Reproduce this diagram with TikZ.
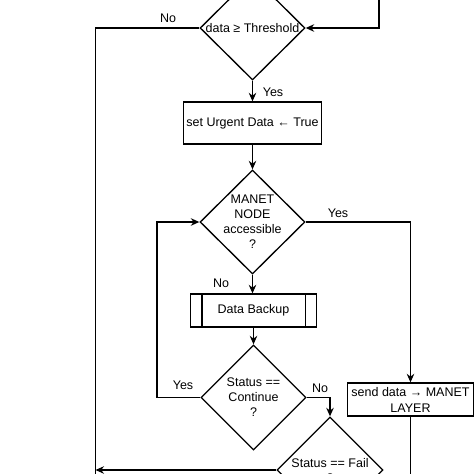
\documentclass[tikz,border=0pt]{standalone}
\usepackage{fontspec}
\setmainfont{Liberation Sans}
\usetikzlibrary{arrows.meta,shapes.geometric}
\begin{document}
\begin{tikzpicture}[x=1pt,y=-1pt,line width=1.35pt,
  arr/.style={-{Stealth[length=8.5pt,width=7.5pt]}},
  txt/.style={font=\fontsize{12.5}{15}\selectfont,align=center,inner sep=0pt},
  dec/.style={diamond,draw,inner sep=0pt,minimum width=105pt,minimum height=104pt},
  box/.style={rectangle,draw,inner sep=0pt,font=\fontsize{12.5}{16}\selectfont,align=center},
  lbl/.style={font=\fontsize{12.5}{15}\selectfont,inner sep=0pt}]
\useasboundingbox (0,0) rectangle (474,474);
\clip (0,0) rectangle (474,474);
% nodes
\node[dec,label={[txt]center:data ≥ Threshold}] (d1) at (252.5,28) {};
\node[box,minimum width=138pt,minimum height=42pt] (r1) at (252.5,123) {set Urgent Data ← True};
\node[dec,label={[txt]center:{MANET\\NODE\\accessible\\?}}] (d2) at (252.5,222) {};
\node[box,minimum width=126pt,minimum height=33pt] (bk) at (253.5,310.5) {Data Backup};
\draw ([xshift=12pt]bk.north west) -- ([xshift=12pt]bk.south west);
\draw ([xshift=-12pt]bk.north east) -- ([xshift=-12pt]bk.south east);
\node[dec,minimum height=105pt,label={[txt]center:{Status ==\\Continue\\?}}] (d3) at (253.5,397.5) {};
\node[dec,minimum width=106pt,minimum height=106pt,label={[txt]center:{Status == Fail\\?}}] (d4) at (330,470) {};
\node[box,minimum width=126pt,minimum height=33pt] (sd) at (410.5,399.5) {send data → MANET\\LAYER};
% labels
\node[lbl] (l1) at (168,18) {No};
\node[lbl] (l2) at (273,92) {Yes};
\node[lbl] (l3) at (338,213) {Yes};
\node[lbl] (l4) at (221,283) {No};
\node[lbl] (l5) at (183,385) {Yes};
\node[lbl] (l6) at (320,388) {No};
% coordinates
\coordinate (tr) at (379,-10);
\coordinate (bl) at (95.5,490);
\coordinate (lp) at (157,0);
\coordinate (sb) at (410.5,490);
% connectors
\draw[arr] (tr) |- (d1.east);
\draw (d1.west) -| (bl);
\draw[arr] (d1.south) -- (r1.north);
\draw[arr] (r1.south) -- (d2.north);
\draw[arr] (d2.east) -| (sd.north);
\draw[arr] (d2.south) -- (d2.south |- bk.north);
\draw[arr] (bk.south) -- (d3.north);
\draw[arr] (d3.west) -- (d3.west -| lp) |- (d2.west);
\draw[arr] (d3.east) -| (d4.north);
\draw[arr] (d4.west) -- (d4.west -| bl);
\draw (sd.south) -- (sb);
\end{tikzpicture}
\end{document}
